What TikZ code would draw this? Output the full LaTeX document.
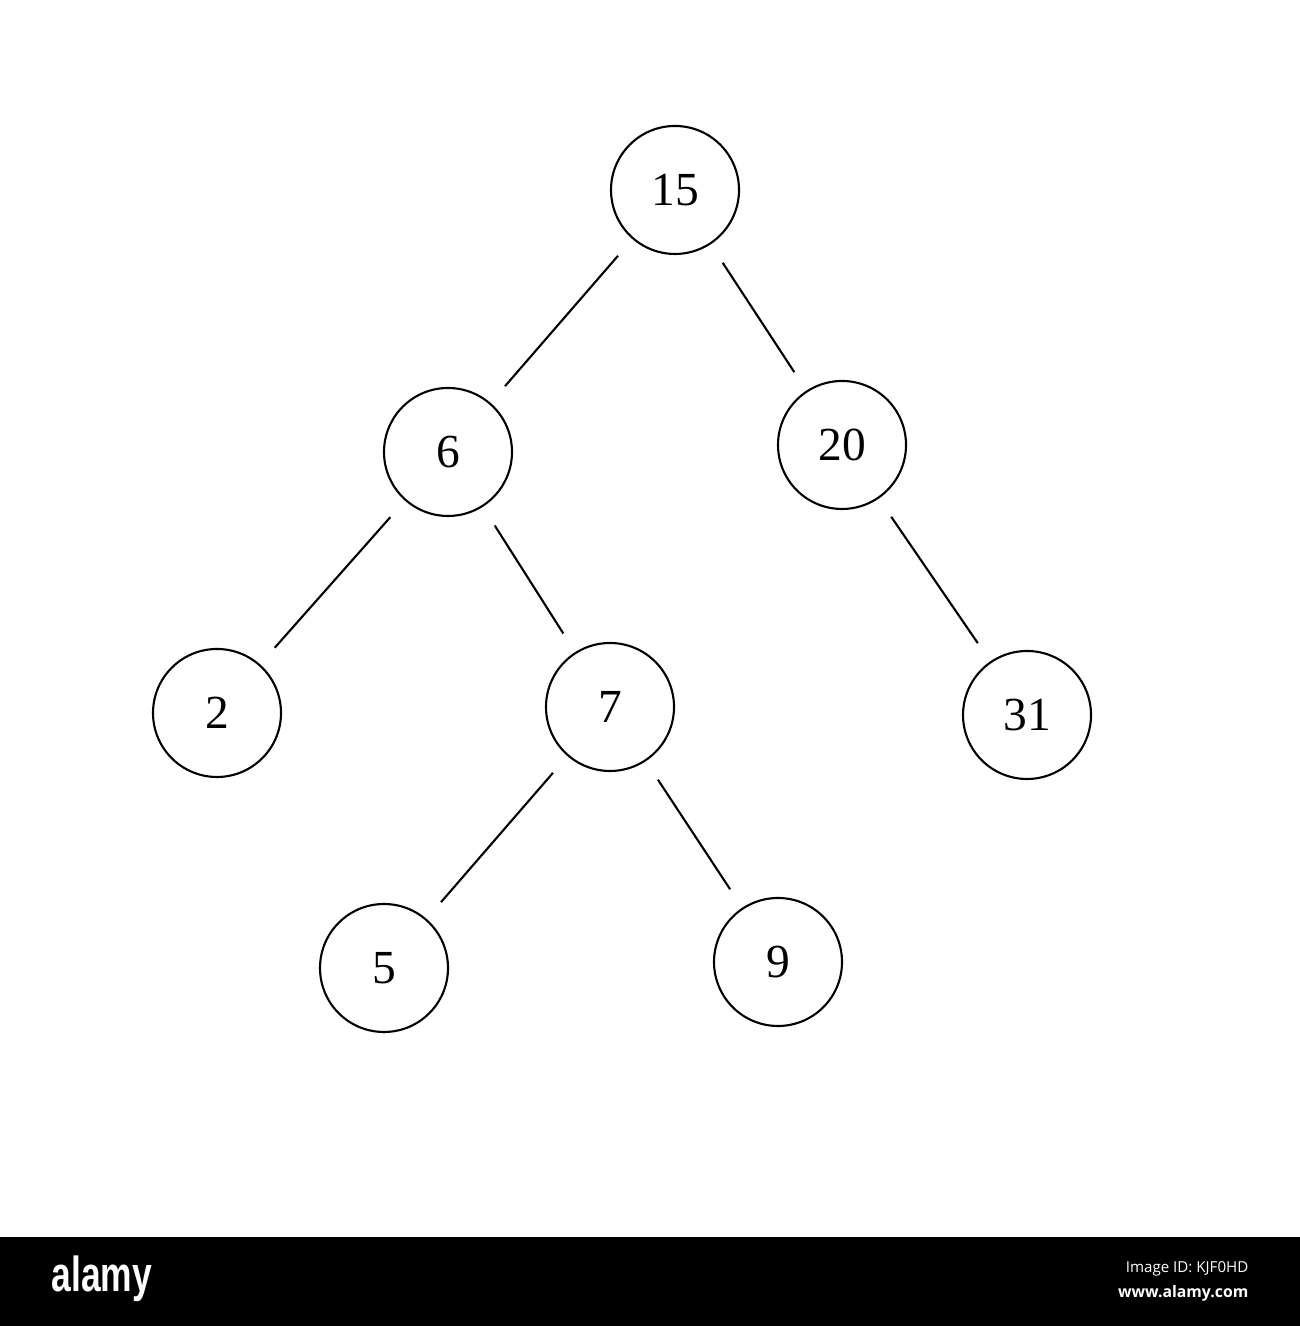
\documentclass[tikz,border=0pt]{standalone}
\usepackage{fontspec}
\setmainfont{Liberation Serif}
\newfontfamily\barfont{Liberation Sans}
\newfontfamily\idfont{Open Sans}
\usetikzlibrary{positioning}
\tikzset{treenode/.style={draw, circle, line width=0.6pt, minimum size=1.28cm, inner sep=0pt, font=\fontsize{13.5}{16}\selectfont}}
\tikzset{branch/.style={line width=0.6pt, shorten <=0.22cm, shorten >=0.22cm}}

\begin{document}
\begin{tikzpicture}
            \useasboundingbox[fill=white] (0, 0) rectangle (13, 13.26);
            \fill[black] (0, 0) rectangle (13, 0.89);
            \node [treenode] (n15) at (6.75, 11.36) {15};
            \node [treenode] (n6) at (4.48, 8.74) {6};
            \node [treenode] (n20) at (8.42, 8.81) {20};
            \node [treenode] (n2) at (2.17, 6.13) {2};
            \node [treenode] (n7) at (6.10, 6.19) {7};
            \node [treenode] (n31) at (10.27, 6.11) {31};
            \node [treenode] (n5) at (3.84, 3.58) {5};
            \node [treenode] (n9) at (7.78, 3.64) {9};
            \draw[branch] (n15) -- (n6);
            \draw[branch] (n15) -- (n20);
            \draw[branch] (n6) -- (n2);
            \draw[branch] (n6) -- (n7);
            \draw[branch] (n20) -- (n31);
            \draw[branch] (n7) -- (n5);
            \draw[branch] (n7) -- (n9);
            % watermark bar
            \node [anchor=base west, inner sep=0pt, text=white, xscale=0.72, font=\barfont\bfseries\fontsize{14}{15}\selectfont] (logo) at (0.51, 0.34) {alamy};
            \node [anchor=base east, inner sep=0pt, text=white, font=\idfont\fontsize{4.3}{5}\selectfont] (imgid) at (12.49, 0.53) {Image ID: KJF0HD};
            \node [anchor=base east, inner sep=0pt, text=white, font=\idfont\bfseries\fontsize{4.5}{5}\selectfont] (site) at (12.49, 0.29) {www.alamy.com};
        \end{tikzpicture}
\end{document}
